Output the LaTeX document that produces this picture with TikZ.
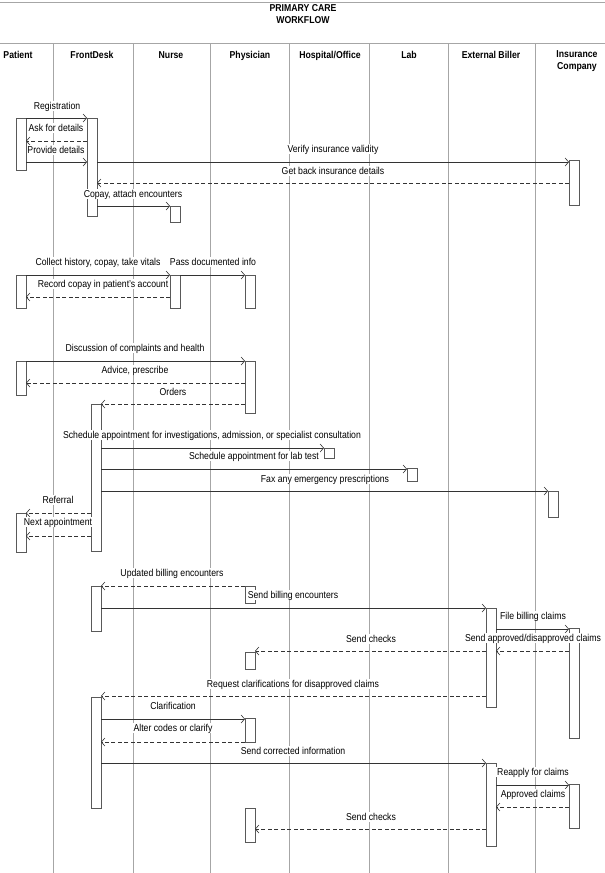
\documentclass[tikz,border=0pt]{standalone}
\usepackage{fontspec}
\setmainfont{Liberation Sans}[FakeStretch=0.87]
\usetikzlibrary{arrows.meta}
\newcommand\abox[4]{\node[actbox, minimum height={#4pt-#3pt}] (#1) at ({#2+5},{(#3+#4)/2}) {};}
\begin{document}
\begin{tikzpicture}[x=1pt,y=-1pt,
  lane/.style={draw=black!35, line width=0.9pt},
  actbox/.style={draw=black!65, fill=white, line width=0.7pt, minimum width=10pt, inner sep=0pt, outer sep=0pt},
  msg/.style={draw=black!80, line width=0.6pt, -{Straight Barb[length=3.5pt,width=8pt]}},
  reply/.style={msg, dash pattern=on 4pt off 2.5pt},
  lbl/.style={fill=white, inner sep=0.8pt, text height=7.5pt, text depth=1.5pt, font=\fontsize{10}{12}\selectfont},
  hdr/.style={align=center, font=\bfseries\fontsize{10}{12}\selectfont}]
\useasboundingbox (0,0) rectangle (605,873);
\fill[white] (0,0) rectangle (605,873);
% frame lines
\draw[lane] (0,2) -- (605,2);
\draw[lane] (0,43) -- (605,43);
\foreach \x in {53,133,210,289,369,448,535} \draw[lane] (\x,43) -- (\x,873);
% title and headers
\node[hdr] (title) at (303,14) {PRIMARY CARE\\WORKFLOW};
\node[hdr, anchor=base] (hP) at (18,58) {Patient};
\node[hdr, anchor=base] (hF) at (92,58) {FrontDesk};
\node[hdr, anchor=base] (hN) at (171,58) {Nurse};
\node[hdr, anchor=base] (hD) at (250,58) {Physician};
\node[hdr, anchor=base] (hH) at (330,58) {Hospital/Office};
\node[hdr, anchor=base] (hL) at (409,58) {Lab};
\node[hdr, anchor=base] (hB) at (491,58) {External Biller};
\node[hdr] (hI) at (577,61) {Insurance\\Company};
% activation boxes
\abox{p1}{16}{118}{170}
\abox{p2}{16}{275}{308}
\abox{p3}{16}{361}{395}
\abox{p4}{16}{513}{552}
\abox{f1}{87}{118}{216}
\abox{f2}{91}{404}{551}
\abox{f3}{91}{586}{631}
\abox{f4}{91}{697}{808}
\abox{n1}{170}{206}{222}
\abox{n2}{170}{275}{308}
\abox{d1}{245}{275}{308}
\abox{d2}{245}{361}{413}
\abox{d3}{245}{586}{603}
\abox{d4}{245}{652}{669}
\abox{d5}{245}{718}{742}
\abox{d6}{245}{808}{842}
\abox{h1}{324}{448}{458}
\abox{l1}{407}{468}{481}
\abox{b1}{486}{608}{707}
\abox{b2}{486}{763}{846}
\abox{i1}{569}{160}{205}
\abox{i2}{548}{491}{517}
\abox{i3}{569}{628}{738}
\abox{i4}{569}{784}{828}
% messages
\draw[msg] (p1.east|-0,118) -- (f1.west|-0,118);
\draw[reply] (f1.west|-0,141) -- (p1.east|-0,141);
\draw[msg] (p1.east|-0,162) -- (f1.west|-0,162);
\draw[msg] (f1.east|-0,162) -- (i1.west|-0,162);
\draw[reply] (i1.west|-0,183) -- (f1.east|-0,183);
\draw[msg] (f1.east|-0,206) -- (n1.west|-0,206);
\draw[msg] (p2.east|-0,275) -- (n2.west|-0,275);
\draw[msg] (n2.east|-0,275) -- (d1.west|-0,275);
\draw[reply] (n2.west|-0,297) -- (p2.east|-0,297);
\draw[msg] (p3.east|-0,361) -- (d2.west|-0,361);
\draw[reply] (d2.west|-0,383) -- (p3.east|-0,383);
\draw[reply] (d2.west|-0,404) -- (f2.east|-0,404);
\draw[msg] (f2.east|-0,448) -- (h1.west|-0,448);
\draw[msg] (f2.east|-0,469) -- (l1.west|-0,469);
\draw[msg] (f2.east|-0,491) -- (i2.west|-0,491);
\draw[reply] (f2.west|-0,513) -- (p4.east|-0,513);
\draw[reply] (f2.west|-0,536) -- (p4.east|-0,536);
\draw[reply] (d3.west|-0,586) -- (f3.east|-0,586);
\draw[msg] (f3.east|-0,608) -- (b1.west|-0,608);
\draw[msg] (b1.east|-0,629) -- (i3.west|-0,629);
\draw[reply] (i3.west|-0,651) -- (b1.east|-0,651);
\draw[reply] (b1.west|-0,651) -- (d4.east|-0,651);
\draw[reply] (b1.west|-0,696) -- (f4.east|-0,696);
\draw[msg] (f4.east|-0,719) -- (d5.west|-0,719);
\draw[reply] (d5.west|-0,742) -- (f4.east|-0,742);
\draw[msg] (f4.east|-0,763) -- (b2.west|-0,763);
\draw[msg] (b2.east|-0,785) -- (i4.west|-0,785);
\draw[reply] (i4.west|-0,807) -- (b2.east|-0,807);
\draw[reply] (b2.west|-0,829) -- (d6.east|-0,829);
% labels
\node[lbl] (t1) at (57,106) {Registration};
\node[lbl] (t2) at (56,128) {Ask for details};
\node[lbl] (t3) at (56,150) {Provide details};
\node[lbl] (t4) at (333,149) {Verify insurance validity};
\node[lbl] (t5) at (333,171) {Get back insurance details};
\node[lbl] (t6) at (133,194) {Copay, attach encounters};
\node[lbl] (t7) at (98,262) {Collect history, copay, take vitals};
\node[lbl] (t8) at (213,262) {Pass documented info};
\node[lbl] (t9) at (103,284) {Record copay in patient's account};
\node[lbl] (t10) at (135,348) {Discussion of complaints and health};
\node[lbl] (t11) at (135,370) {Advice, prescribe};
\node[lbl] (t12) at (173,392) {Orders};
\node[lbl] (t13) at (212,435) {Schedule appointment for investigations, admission, or specialist consultation};
\node[lbl] (t14) at (254,456) {Schedule appointment for lab test};
\node[lbl] (t15) at (325,479) {Fax any emergency prescriptions};
\node[lbl] (t16) at (58,500) {Referral};
\node[lbl] (t17) at (58,522) {Next appointment};
\node[lbl] (t18) at (172,573) {Updated billing encounters};
\node[lbl] (t19) at (293,595) {Send billing encounters};
\node[lbl] (t20) at (533,616) {File billing claims};
\node[lbl] (t21) at (533,638) {Send approved/disapproved claims};
\node[lbl] (t22) at (371,639) {Send checks};
\node[lbl] (t23) at (293,684) {Request clarifications for disapproved claims};
\node[lbl] (t24) at (173,706) {Clarification};
\node[lbl] (t25) at (173,728) {Alter codes or clarify};
\node[lbl] (t26) at (293,751) {Send corrected information};
\node[lbl] (t27) at (533,772) {Reapply for claims};
\node[lbl] (t28) at (533,794) {Approved claims};
\node[lbl] (t29) at (371,817) {Send checks};
\end{tikzpicture}
\end{document}
